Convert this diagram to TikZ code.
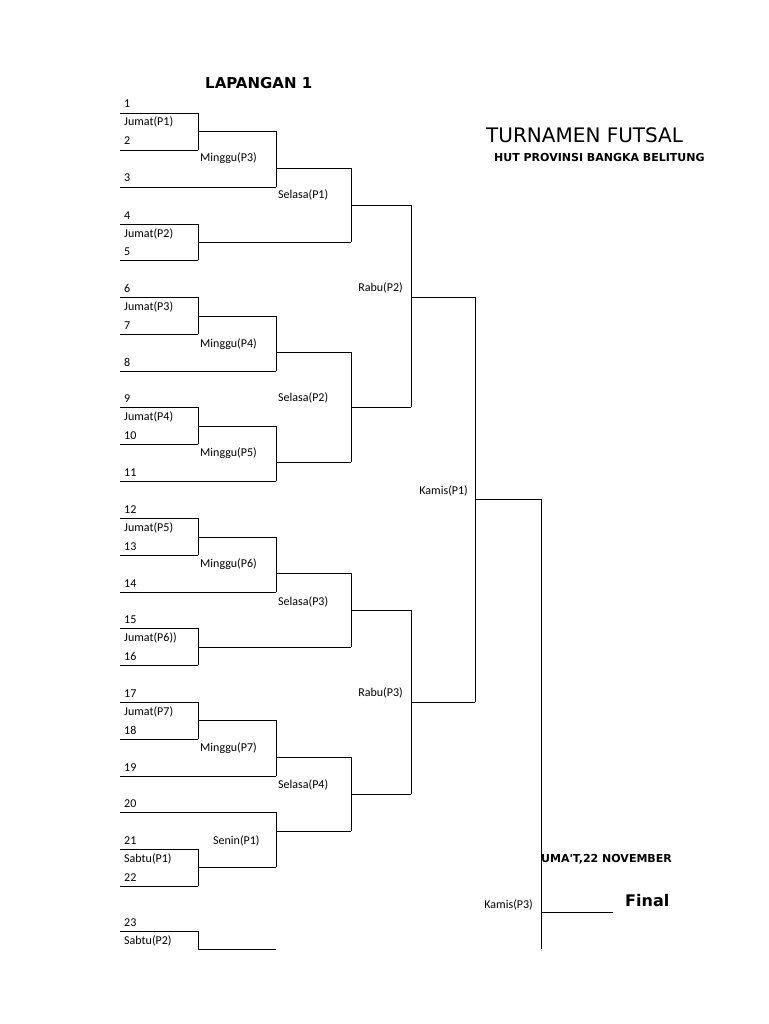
\documentclass[tikz,border=0pt]{standalone}
\usepackage{fontspec}
\setmainfont{Carlito}
\newfontfamily\dv{DejaVu Sans}
\begin{document}
\begin{tikzpicture}[x=1pt,y=-1pt,
  ln/.style={draw=black,line width=0.9pt},
  lab/.style={anchor=base west,inner sep=0pt,font=\fontsize{12}{12}\selectfont},
  rlab/.style={anchor=base east,inner sep=0pt,font=\fontsize{12}{12}\selectfont}]
\useasboundingbox (0,0) rectangle (768,1024);
\clip (0,0) rectangle (768,1024);
\fill[white] (0,0) rectangle (768,1024);
% titles
\node[anchor=base west,inner sep=0pt,font=\dv\bfseries\fontsize{15}{15}\selectfont] (lap) at (205,89) {LAPANGAN 1};
\node[anchor=base west,inner sep=0pt,font=\dv\fontsize{20}{20}\selectfont] (t1) at (486,143) {TURNAMEN FUTSAL};
\node[anchor=base west,inner sep=0pt,font=\dv\bfseries\fontsize{11}{11}\selectfont] (t2) at (494,162) {HUT PROVINSI BANGKA BELITUNG};
\node[anchor=base west,inner sep=0pt,font=\dv\bfseries\fontsize{11}{11}\selectfont] (t3) at (541,862) {UMA'T,22 NOVEMBER};
\node[anchor=base west,inner sep=0pt,font=\dv\bfseries\fontsize{16}{16}\selectfont] (fin) at (625,906) {Final};
% team numbers
\foreach \n/\y in {1/113,2/150,3/187,4/224,5/260,6/297,7/334,8/371,9/407,10/444,11/481,12/518,13/555,14/592,15/628,16/665,17/702,18/739,19/776,20/812,21/849,22/886,23/931}
  \node[lab] (n\n) at (124,\y-5) {\n};
% round 1 lines
\foreach \y in {113,150,224,260,297,334,407,444,518,555,628,665,702,739,849,886,931}
  \draw[ln] (120,\y) -- (198,\y);
\foreach \y in {187,371,481,592,776,812}
  \draw[ln] (120,\y) -- (276,\y);
% Jumat/Sabtu brackets
\foreach \a/\b/\t in {113/150/Jumat(P1),224/260/Jumat(P2),297/334/Jumat(P3),407/444/Jumat(P4),518/555/Jumat(P5),628/665/Jumat(P6)),702/739/Jumat(P7),849/886/Sabtu(P1)}{
  \draw[ln] (198,\a) -- (198,\b);
  \node[lab] at (124,\a+13) {\t};
}
\node[lab] at (124,944) {Sabtu(P2)};
\draw[ln] (198,931) -- (198,949) -- (276,949);
% horizontals out of Jumat
\foreach \y in {131,316,426,537,720,867} \draw[ln] (198,\y) -- (276,\y);
\foreach \y in {242,647} \draw[ln] (198,\y) -- (351,\y);
% Minggu / Senin brackets at 276
\foreach \a/\b/\m in {131/187/168,316/371/352,426/481/462,537/592/573,720/776/757,812/867/831}{
  \draw[ln] (276,\a) -- (276,\b);
  \draw[ln] (276,\m) -- (351,\m);
}
\node[lab] at (200,162) {Minggu(P3)};
\node[lab] at (200,347) {Minggu(P4)};
\node[lab] at (200,456) {Minggu(P5)};
\node[lab] at (200,567) {Minggu(P6)};
\node[lab] at (200,751) {Minggu(P7)};
\node[lab] at (213,844) {Senin(P1)};
% Selasa brackets at 351
\foreach \a/\b/\m in {168/242/205,352/462/407,573/647/610,757/831/794}{
  \draw[ln] (351,\a) -- (351,\b);
  \draw[ln] (351,\m) -- (411,\m);
}
\node[lab] at (278,199) {Selasa(P1)};
\node[lab] at (278,401) {Selasa(P2)};
\node[lab] at (278,605) {Selasa(P3)};
\node[lab] at (278,788) {Selasa(P4)};
% Rabu brackets at 411
\draw[ln] (411,205) -- (411,407); \draw[ln] (411,297) -- (475,297);
\draw[ln] (411,610) -- (411,794); \draw[ln] (411,702) -- (475,702);
\node[rlab] at (403,291) {Rabu(P2)};
\node[rlab] at (403,696) {Rabu(P3)};
% Kamis
\draw[ln] (475,297) -- (475,702); \draw[ln] (475,499) -- (541,499);
\node[rlab] at (468,494) {Kamis(P1)};
\draw[ln] (541,499) -- (541,949);
\draw[ln] (541,912) -- (613,912);
\node[rlab] at (533,908) {Kamis(P3)};
\end{tikzpicture}
\end{document}
